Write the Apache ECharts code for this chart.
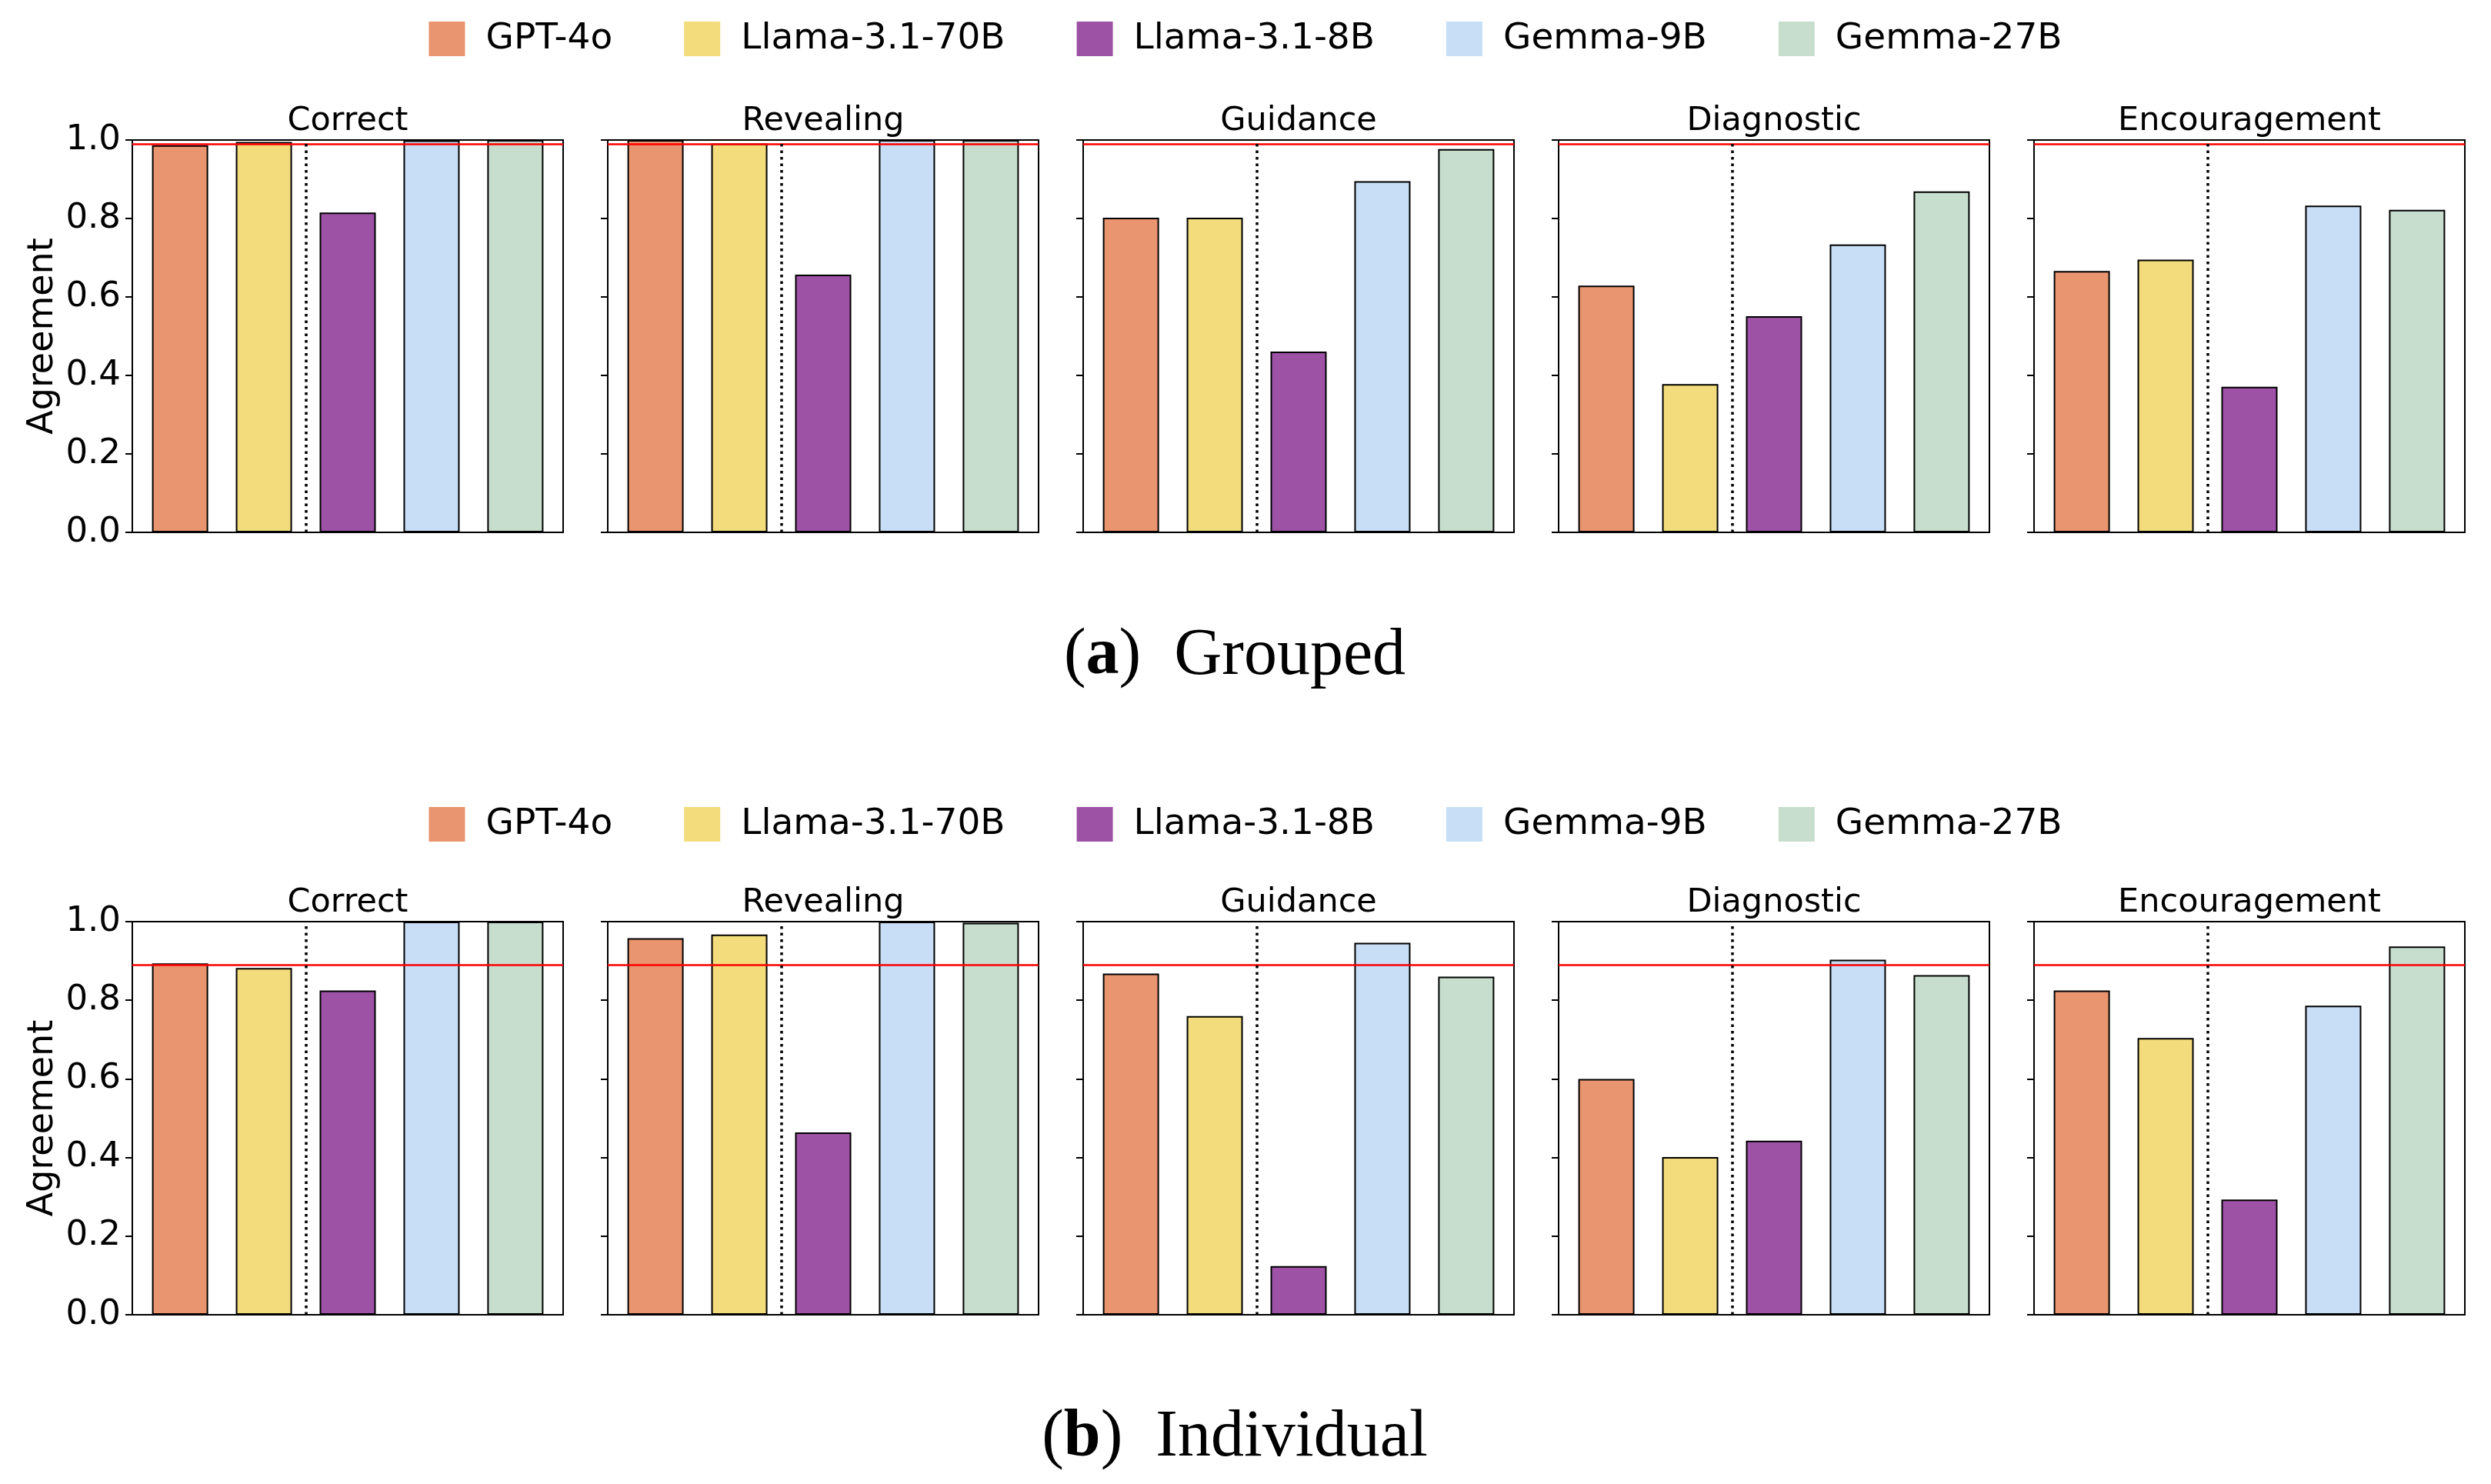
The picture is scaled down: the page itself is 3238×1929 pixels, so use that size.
<!DOCTYPE html>
<html><head><meta charset="utf-8">
<script src="https://cdn.jsdelivr.net/npm/echarts@6/dist/echarts.min.js"></script>
<style>html,body{margin:0;padding:0;background:#fff}#c{width:3238px;height:1929px}</style>
</head><body><div id="c"></div>
<script>
// ---- data ----
const panels = ['Correct', 'Revealing', 'Guidance', 'Diagnostic', 'Encouragement'];
const models = ['GPT-4o', 'Llama-3.1-70B', 'Llama-3.1-8B', 'Gemma-9B', 'Gemma-27B'];
const modelColors = ['#E99570', '#F3DC7B', '#9D52A6', '#C8DEF6', '#C7DECE'];
const captions = ['a', 'b'];
const captionTexts = ['Grouped', 'Individual'];

// Grouped (a)
const groupedGPT4o     = [0.987, 1.000, 0.802, 0.629, 0.666];
const groupedLlama70B  = [0.995, 0.991, 0.802, 0.378, 0.695];
const groupedLlama8B   = [0.815, 0.657, 0.461, 0.551, 0.371];
const groupedGemma9B   = [0.999, 1.000, 0.895, 0.734, 0.833];
const groupedGemma27B  = [1.000, 1.000, 0.977, 0.869, 0.822];
const groupedRefLine = 0.988;

// Individual (b)
const individualGPT4o    = [0.894, 0.958, 0.868, 0.600, 0.825];
const individualLlama70B = [0.882, 0.967, 0.760, 0.401, 0.704];
const individualLlama8B  = [0.825, 0.464, 0.124, 0.443, 0.293];
const individualGemma9B  = [1.000, 1.000, 0.946, 0.903, 0.786];
const individualGemma27B = [1.000, 0.997, 0.860, 0.864, 0.937];
const individualRefLine = 0.893;

const dividerPosition = 1.5; // between Llama-70B and Llama-8B

// ---- layout ----
const rowsValues = [
  [groupedGPT4o, groupedLlama70B, groupedLlama8B, groupedGemma9B, groupedGemma27B],
  [individualGPT4o, individualLlama70B, individualLlama8B, individualGemma9B, individualGemma27B]
];
const refLines = [groupedRefLine, individualRefLine];

const FONT = 'DejaVu Sans';
const panelLeft0 = 172, panelStep = 618, panelW = 560;
const rowTop = [182, 1198], panelH = [510, 511];
const legendTop = [22, 1043];
const captionCenterY = [853, 1869];
const xMin = -0.57, xMax = 4.57;
const barW = 0.67 * panelW / (xMax - xMin);

const grids = [], xAxes = [], yAxes = [], series = [], titles = [];
let g = 0;
for (let r = 0; r < 2; r++) {
  for (let c = 0; c < panels.length; c++) {
    const left = panelLeft0 + c * panelStep;
    grids.push({left: left, top: rowTop[r], width: panelW, height: panelH[r],
      show: true, borderColor: '#000', borderWidth: 2, backgroundColor: 'transparent', containLabel: false});
    xAxes.push({gridIndex: g, type: 'value', min: xMin, max: xMax,
      axisLine: {show: false, onZero: false}, axisTick: {show: false}, axisLabel: {show: false}, splitLine: {show: false}});
    yAxes.push({gridIndex: g, type: 'value', min: 0, max: 1, interval: 0.2, position: 'left',
      axisLine: {show: true, onZero: false, lineStyle: {color: '#000', width: 2}},
      axisTick: {show: true, length: 9, lineStyle: {color: '#000', width: 2}},
      axisLabel: {show: c === 0, color: '#000', fontSize: 45, fontFamily: FONT, margin: 15,
        formatter: v => v.toFixed(1)},
      splitLine: {show: false},
      name: c === 0 ? 'Agreement' : '', nameLocation: 'middle', nameGap: 93,
      nameTextStyle: {color: '#000', fontSize: 46, fontFamily: FONT}});
    titles.push({text: panels[c], left: left + panelW / 2, top: rowTop[r] - 46, textAlign: 'center',
      padding: 0, textStyle: {fontFamily: FONT, fontSize: 43, fontWeight: 'normal', color: '#000'}});
    for (let m = 0; m < models.length; m++) {
      series.push({
        type: 'bar', name: models[m], xAxisIndex: g, yAxisIndex: g,
        data: [[m, rowsValues[r][m][c]]],
        barWidth: barW, barGap: '-100%',
        itemStyle: {color: modelColors[m], borderColor: '#000', borderWidth: 2},
        emphasis: {disabled: true}
      });
    }
    // reference lines (red agreement line, dotted divider)
    series.push({
      type: 'line', name: 'reference', xAxisIndex: g, yAxisIndex: g, data: [],
      showSymbol: false, silent: true, z: 5,
      markLine: {
        silent: true, symbol: 'none', animation: false,
        label: {show: false},
        data: [
          {yAxis: refLines[r], lineStyle: {color: '#FF0000', width: 2.5, type: 'solid'}},
          {xAxis: dividerPosition, lineStyle: {color: '#000', width: 3.5, type: [3.5, 5]}}
        ]
      }
    });
    g++;
  }
}
for (let r = 0; r < 2; r++) {
  titles.push({
    text: '({b|' + captions[r] + '})  ' + captionTexts[r],
    left: 1605, top: captionCenterY[r] - 43, textAlign: 'center', padding: 0,
    textStyle: {fontFamily: 'Liberation Serif', fontSize: 86, fontWeight: 'normal', color: '#000',
      rich: {b: {fontFamily: 'Liberation Serif', fontSize: 86, fontWeight: 'bold', color: '#000'}}}
  });
}
const legends = legendTop.map(t => ({
  data: models, top: t, left: 'center', icon: 'rect', itemWidth: 47, itemHeight: 45, itemGap: 93,
  itemStyle: {borderWidth: 0},
  textStyle: {fontFamily: FONT, fontSize: 47, color: '#000', padding: [0, 0, 0, 22]}
}));

const chart = echarts.init(document.getElementById('c'), null, {renderer: 'canvas'});
chart.setOption({
  backgroundColor: '#fff', animation: false,
  title: titles, legend: legends, grid: grids, xAxis: xAxes, yAxis: yAxes, series: series
});
</script></body></html>
